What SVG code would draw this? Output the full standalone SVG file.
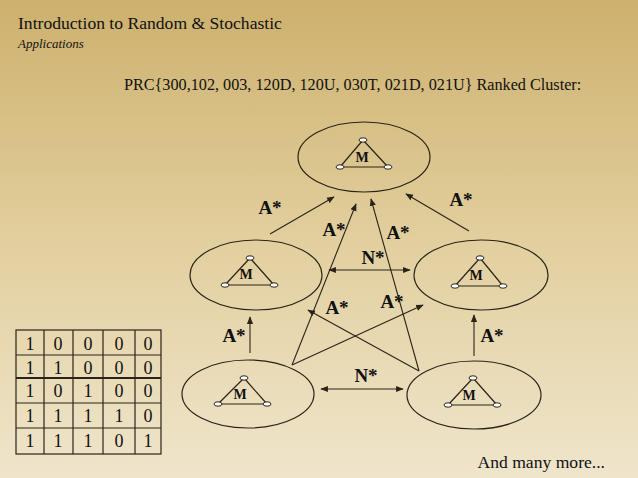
<svg xmlns="http://www.w3.org/2000/svg" width="638" height="478" viewBox="0 0 638 478">
<defs>
<linearGradient id="bg" x1="0" y1="0" x2="0" y2="1">
<stop offset="0" stop-color="#cdb06d"/><stop offset="0.5" stop-color="#e2cf9e"/><stop offset="1" stop-color="#efe5cb"/>
</linearGradient>
<marker id="ah" viewBox="0 0 10 10" refX="9" refY="5" markerWidth="7" markerHeight="7" orient="auto-start-reverse"><path d="M0,1 L10,5 L0,9 z" fill="#2a2418"/></marker>
<style>
.e{fill:none;stroke:#2a2418;stroke-width:1.2}
.t{fill:none;stroke:#2a2418;stroke-width:1.2}
.v{fill:#fff;stroke:#2a2418;stroke-width:1}
.m{font-family:"Liberation Serif",serif;font-weight:bold;font-size:14px;fill:#111;text-anchor:middle}
.l{font-family:"Liberation Serif",serif;font-weight:bold;font-size:19px;fill:#111;text-anchor:middle}
.c line{stroke:#2a2418;stroke-width:1.1}
.tb{font-family:"Liberation Serif",serif;font-size:18px;fill:#111;text-anchor:middle}
.g line{stroke:#2a2418;stroke-width:1.2}
</style>
</defs>
<rect width="638" height="478" fill="url(#bg)"/>
<text x="18" y="29" font-family="Liberation Serif,serif" font-size="17.6" fill="#111">Introduction to Random &amp; Stochastic</text>
<text x="18" y="48" font-family="Liberation Serif,serif" font-size="13" font-style="italic" fill="#111">Applications</text>
<text x="124" y="90" font-family="Liberation Serif,serif" font-size="16.2" fill="#111">PRC{300,102, 003, 120D, 120U, 030T, 021D, 021U}   Ranked Cluster:</text>
<text x="605" y="468" font-family="Liberation Serif,serif" font-size="17.6" fill="#111" text-anchor="end">And many more...</text>

<g id="n-top"><ellipse class="e" cx="364" cy="157" rx="66" ry="35"/><path class="t" d="M363,140 L340,167 L388,167 Z"/><ellipse class="v" cx="363" cy="140" rx="4" ry="2.2"/><ellipse class="v" cx="340" cy="167" rx="4" ry="2.2"/><ellipse class="v" cx="388" cy="167" rx="4" ry="2.2"/><text class="m" x="362" y="162">M</text></g>
<g id="n-left"><ellipse class="e" cx="256" cy="275" rx="66" ry="35"/><path class="t" d="M250,258 L225,285 L274,285 Z"/><ellipse class="v" cx="250" cy="258" rx="4" ry="2.2"/><ellipse class="v" cx="225" cy="285" rx="4" ry="2.2"/><ellipse class="v" cx="274" cy="285" rx="4" ry="2.2"/><text class="m" x="246" y="279">M</text></g>
<g id="n-right"><ellipse class="e" cx="481" cy="275" rx="67" ry="35"/><path class="t" d="M480,258 L455,286 L503,286 Z"/><ellipse class="v" cx="480" cy="258" rx="4" ry="2.2"/><ellipse class="v" cx="455" cy="286" rx="4" ry="2.2"/><ellipse class="v" cx="503" cy="286" rx="4" ry="2.2"/><text class="m" x="476" y="280">M</text></g>
<g id="n-bl"><ellipse class="e" cx="248" cy="394" rx="66" ry="34"/><path class="t" d="M244,378 L218,404 L267,404 Z"/><ellipse class="v" cx="244" cy="378" rx="4" ry="2.2"/><ellipse class="v" cx="218" cy="404" rx="4" ry="2.2"/><ellipse class="v" cx="267" cy="404" rx="4" ry="2.2"/><text class="m" x="240" y="399">M</text></g>
<g id="n-br"><ellipse class="e" cx="474" cy="395" rx="67" ry="34"/><path class="t" d="M473,378 L448,405 L497,405 Z"/><ellipse class="v" cx="473" cy="378" rx="4" ry="2.2"/><ellipse class="v" cx="448" cy="405" rx="4" ry="2.2"/><ellipse class="v" cx="497" cy="405" rx="4" ry="2.2"/><text class="m" x="469" y="400">M</text></g>

<g id="connectors" class="c">
<line x1="270" y1="234" x2="334" y2="197" marker-end="url(#ah)"/>
<line x1="469" y1="231" x2="406" y2="194" marker-end="url(#ah)"/>
<line x1="292" y1="365" x2="356" y2="204" marker-end="url(#ah)"/>
<line x1="419" y1="371" x2="371" y2="199" marker-end="url(#ah)"/>
<line x1="329" y1="270" x2="410" y2="270" marker-start="url(#ah)" marker-end="url(#ah)"/>
<line x1="292" y1="365" x2="423" y2="305" marker-end="url(#ah)"/>
<line x1="419" y1="371" x2="308" y2="310" marker-end="url(#ah)"/>
<line x1="250" y1="353" x2="250" y2="317" marker-end="url(#ah)"/>
<line x1="474" y1="356" x2="474" y2="315" marker-end="url(#ah)"/>
<line x1="321" y1="389" x2="403" y2="389" marker-start="url(#ah)" marker-end="url(#ah)"/>
</g>
<g id="labels">
<text class="l" x="270" y="214">A*</text>
<text class="l" x="461" y="206">A*</text>
<text class="l" x="334" y="236">A*</text>
<text class="l" x="398" y="239">A*</text>
<text class="l" x="373" y="264">N*</text>
<text class="l" x="337" y="314">A*</text>
<text class="l" x="392" y="308">A*</text>
<text class="l" x="234" y="342">A*</text>
<text class="l" x="492" y="342">A*</text>
<text class="l" x="366" y="382">N*</text>
</g>

<g id="matrix">
<rect x="16" y="330" width="145" height="124" fill="none" stroke="#2a2418" stroke-width="1.2"/>
<g class="g">
<line x1="44" y1="330" x2="44" y2="454"/><line x1="73" y1="330" x2="73" y2="454"/><line x1="103" y1="330" x2="103" y2="454"/><line x1="135" y1="330" x2="135" y2="454"/>
<line x1="16" y1="355" x2="161" y2="355"/><line x1="16" y1="378" x2="161" y2="378" style="stroke-width:2.2"/><line x1="16" y1="403" x2="161" y2="403"/><line x1="16" y1="428" x2="161" y2="428"/>
</g>
<g class="tb">
<text x="30" y="350">1</text><text x="58" y="350">0</text><text x="88" y="350">0</text><text x="119" y="350">0</text><text x="148" y="350">0</text>
<text x="30" y="374">1</text><text x="58" y="374">1</text><text x="88" y="374">0</text><text x="119" y="374">0</text><text x="148" y="374">0</text>
<text x="30" y="397">1</text><text x="58" y="397">0</text><text x="88" y="397">1</text><text x="119" y="397">0</text><text x="148" y="397">0</text>
<text x="30" y="422">1</text><text x="58" y="422">1</text><text x="88" y="422">1</text><text x="119" y="422">1</text><text x="148" y="422">0</text>
<text x="30" y="447">1</text><text x="58" y="447">1</text><text x="88" y="447">1</text><text x="119" y="447">0</text><text x="148" y="447">1</text>
</g>
</g>
</svg>
